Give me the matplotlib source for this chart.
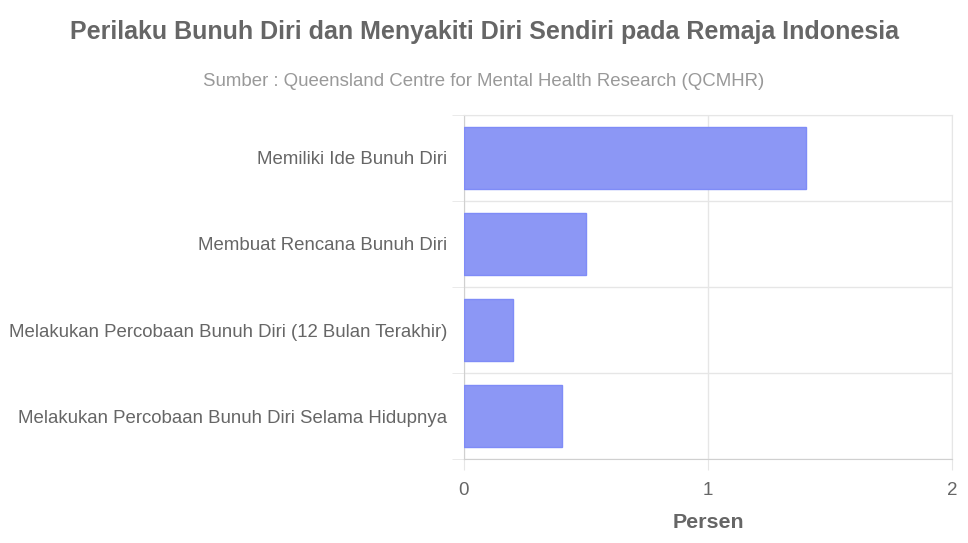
import matplotlib.pyplot as plt
import numpy as np

plt.rcParams['font.family'] = ['Liberation Sans', 'DejaVu Sans']

categories = [
    "Memiliki Ide Bunuh Diri",
    "Membuat Rencana Bunuh Diri",
    "Melakukan Percobaan Bunuh Diri (12 Bulan Terakhir)",
    "Melakukan Percobaan Bunuh Diri Selama Hidupnya",
]
values = [1.4, 0.5, 0.2, 0.4]
x_ticks = [0, 1, 2]

grid_col = "#e6e6e6"
text_col = "#666666"

fig = plt.figure(figsize=(9.68, 5.43), dpi=100)
ax = fig.add_axes([0.4793, 0.1541, 0.5042, 0.6347])

y = np.arange(len(categories))
ax.barh(y, values, height=0.72, color="#8c97f5", edgecolor="#7f8cf7", linewidth=1, zorder=3)

ax.set_xlim(0, 2)
ax.set_ylim(len(categories) - 0.5, -0.5)

ax.set_xticks(x_ticks)
ax.set_xticklabels([str(t) for t in x_ticks], color=text_col, fontsize=13.5)
ax.tick_params(axis='x', length=8, color=grid_col, pad=8.5)

ax.set_yticks(y)
ax.set_yticklabels(categories, color=text_col, fontsize=13.4)
ax.tick_params(axis='y', which='major', length=0, pad=12)
ax.set_yticks(np.arange(-0.5, len(categories)), minor=True)
ax.tick_params(axis='y', which='minor', length=9, color=grid_col)

ax.grid(axis='x', color=grid_col, linewidth=1, zorder=0)
ax.grid(axis='y', which='minor', color=grid_col, linewidth=1, zorder=0)
ax.grid(axis='y', which='major', visible=False)

for s in ['top', 'right']:
    ax.spines[s].set_color(grid_col)
for s in ['left', 'bottom']:
    ax.spines[s].set_color("#d0d0d0")

ax.set_xlabel("Persen", color=text_col, fontsize=15.4, fontweight='bold', labelpad=10)

fig.text(0.5, 1 - 32 / 543, "Perilaku Bunuh Diri dan Menyakiti Diri Sendiri pada Remaja Indonesia",
         ha='center', va='center', fontsize=18, fontweight='bold', color=text_col)
fig.text(0.5, 1 - 81 / 543, "Sumber : Queensland Centre for Mental Health Research (QCMHR)",
         ha='center', va='center', fontsize=13.4, color="#999999")

fig.savefig("out.png", dpi=100)
